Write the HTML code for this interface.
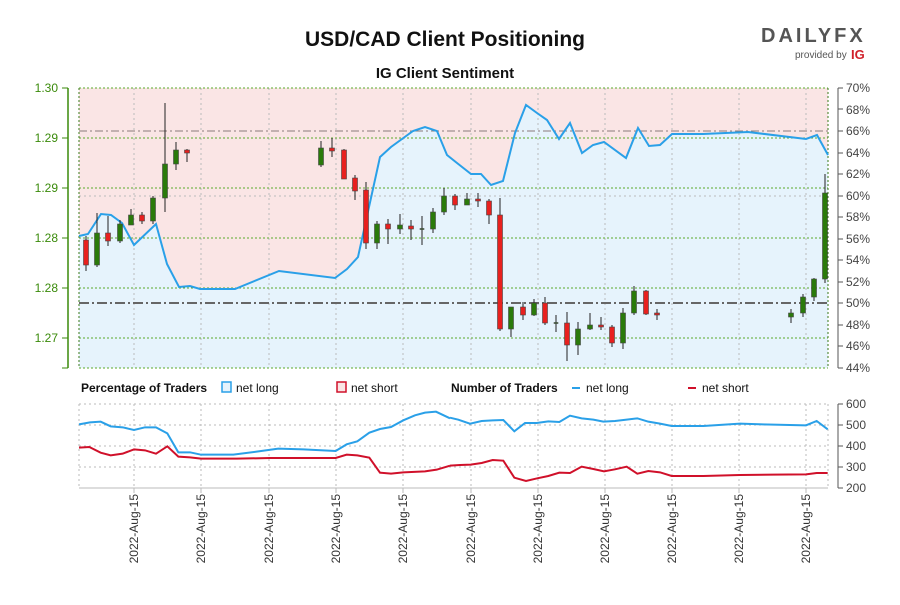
<!DOCTYPE html>
<html><head><meta charset="utf-8"><style>
body{margin:0;background:#fff;width:900px;height:600px;overflow:hidden;font-family:"Liberation Sans",sans-serif}
</style></head><body>
<svg width="900" height="600" xmlns="http://www.w3.org/2000/svg" font-family="Liberation Sans, sans-serif">
<text x="445" y="46" text-anchor="middle" font-size="21" font-weight="bold" fill="#111">USD/CAD Client Positioning</text>
<text x="445" y="78" text-anchor="middle" font-size="15" font-weight="bold" fill="#111">IG Client Sentiment</text>
<text x="761" y="42" font-size="20" font-weight="bold" fill="#555" letter-spacing="3">DAILYFX</text>
<text x="795" y="58" font-size="10" fill="#555">provided by</text>
<text x="851" y="59" font-size="13" font-weight="bold" fill="#d0202a">IG</text>
<!-- main plot bg -->
<rect x="79" y="88" width="749" height="280" fill="#fae5e5"/>
<polygon fill="#e6f3fc" points="79,236 88,234 101,214 111,215 122,223 134,245 156,224 167,264 179,287 190,286 200,289 235,289 279,271 335,278 347,269 358,257 380,157 391,147 413,131 425,127 437,131 447,155 457,163 471,174 481,174 491,185 503,181 515,133 526,105 537,113 547,120 559,139 570,123 582,153 593,145 604,142 626,158 638,128 649,146 660,145 672,134 703,134 748,132 806,139 817,135 828,155 828,368 79,368"/>
<g stroke="#bbb" stroke-dasharray="2,3" stroke-width="1">
<line x1="134" y1="88" x2="134" y2="368"/><line x1="201" y1="88" x2="201" y2="368"/><line x1="269" y1="88" x2="269" y2="368"/><line x1="336" y1="88" x2="336" y2="368"/><line x1="403" y1="88" x2="403" y2="368"/><line x1="471" y1="88" x2="471" y2="368"/><line x1="538" y1="88" x2="538" y2="368"/><line x1="605" y1="88" x2="605" y2="368"/><line x1="672" y1="88" x2="672" y2="368"/><line x1="739" y1="88" x2="739" y2="368"/><line x1="806" y1="88" x2="806" y2="368"/>
<line x1="79" y1="196" x2="828" y2="196"/>
</g>
<g stroke="#5aaa2a" stroke-dasharray="2,2" stroke-width="1">
<line x1="79" y1="88" x2="828" y2="88"/><line x1="79" y1="138" x2="828" y2="138"/><line x1="79" y1="188" x2="828" y2="188"/><line x1="79" y1="238" x2="828" y2="238"/><line x1="79" y1="288" x2="828" y2="288"/><line x1="79" y1="338" x2="828" y2="338"/><line x1="79" y1="368" x2="828" y2="368"/>
<line x1="79" y1="88" x2="79" y2="368" stroke="#3a7a1a"/><line x1="828" y1="88" x2="828" y2="368" stroke="#3a7a1a"/>
</g>
<line x1="79" y1="131" x2="828" y2="131" stroke="#8a7a7a" stroke-dasharray="8,3,2,3"/>
<line x1="79" y1="303" x2="828" y2="303" stroke="#666" stroke-width="2" stroke-dasharray="10,3,2,3"/>
<polyline fill="none" stroke="#2aa0e8" stroke-width="2" points="79,236 88,234 101,214 111,215 122,223 134,245 156,224 167,264 179,287 190,286 200,289 235,289 279,271 335,278 347,269 358,257 380,157 391,147 413,131 425,127 437,131 447,155 457,163 471,174 481,174 491,185 503,181 515,133 526,105 537,113 547,120 559,139 570,123 582,153 593,145 604,142 626,158 638,128 649,146 660,145 672,134 703,134 748,132 806,139 817,135 828,155"/>
<!-- candles -->
<g stroke="#222" stroke-width="1">
<line x1="86" y1="236" x2="86" y2="271"/><line x1="97" y1="213" x2="97" y2="267"/><line x1="108" y1="216" x2="108" y2="246"/><line x1="120" y1="220" x2="120" y2="243"/><line x1="131" y1="209" x2="131" y2="225"/><line x1="142" y1="212" x2="142" y2="224"/><line x1="153" y1="196" x2="153" y2="224"/><line x1="165" y1="103" x2="165" y2="212"/><line x1="176" y1="142" x2="176" y2="170"/><line x1="187" y1="149" x2="187" y2="162"/>
<line x1="321" y1="141" x2="321" y2="167"/><line x1="332" y1="138" x2="332" y2="157"/><line x1="344" y1="149" x2="344" y2="179"/><line x1="355" y1="175" x2="355" y2="200"/><line x1="366" y1="182" x2="366" y2="249"/><line x1="377" y1="221" x2="377" y2="249"/><line x1="388" y1="219" x2="388" y2="244"/><line x1="400" y1="214" x2="400" y2="234"/><line x1="411" y1="220" x2="411" y2="240"/><line x1="422" y1="216" x2="422" y2="245"/><line x1="433" y1="208" x2="433" y2="233"/><line x1="444" y1="188" x2="444" y2="215"/>
<line x1="455" y1="194" x2="455" y2="210"/><line x1="467" y1="193" x2="467" y2="205"/><line x1="478" y1="193" x2="478" y2="207"/><line x1="489" y1="199" x2="489" y2="224"/><line x1="500" y1="198" x2="500" y2="331"/><line x1="511" y1="307" x2="511" y2="337"/><line x1="523" y1="302" x2="523" y2="320"/><line x1="534" y1="299" x2="534" y2="316"/><line x1="545" y1="297" x2="545" y2="325"/><line x1="556" y1="315" x2="556" y2="332"/><line x1="567" y1="312" x2="567" y2="361"/><line x1="578" y1="322" x2="578" y2="355"/><line x1="590" y1="313" x2="590" y2="330"/><line x1="601" y1="317" x2="601" y2="330"/><line x1="612" y1="325" x2="612" y2="347"/><line x1="623" y1="308" x2="623" y2="349"/><line x1="634" y1="286" x2="634" y2="315"/><line x1="646" y1="290" x2="646" y2="315"/><line x1="657" y1="309" x2="657" y2="320"/>
<line x1="791" y1="309" x2="791" y2="323"/><line x1="803" y1="294" x2="803" y2="317"/><line x1="814" y1="278" x2="814" y2="301"/><line x1="825" y1="174" x2="825" y2="283"/>
</g>
<g stroke="#444" stroke-width="0.6">
<g fill="#e8201e">
<rect x="83.5" y="240" width="5" height="25"/><rect x="105.5" y="233" width="5" height="8"/><rect x="139.5" y="215" width="5" height="6"/><rect x="184.5" y="150" width="5" height="3"/>
<rect x="329.5" y="148" width="5" height="3"/><rect x="341.5" y="150" width="5" height="29"/><rect x="352.5" y="178" width="5" height="13"/><rect x="363.5" y="190" width="5" height="53"/><rect x="385.5" y="224" width="5" height="5"/><rect x="408.5" y="226" width="5" height="3"/>
<rect x="452.5" y="196" width="5" height="9"/><rect x="475.5" y="199" width="5" height="2"/><rect x="486.5" y="201" width="5" height="14"/><rect x="497.5" y="215" width="5" height="114"/><rect x="520.5" y="307" width="5" height="8"/><rect x="542.5" y="303" width="5" height="20"/><rect x="564.5" y="323" width="5" height="22"/><rect x="598.5" y="325" width="5" height="2"/><rect x="609.5" y="327" width="5" height="16"/><rect x="643.5" y="291" width="5" height="23"/><rect x="654.5" y="313" width="5" height="2"/>
</g>
<g fill="#2a7a0a">
<rect x="94.5" y="233" width="5" height="32"/><rect x="117.5" y="224" width="5" height="17"/><rect x="128.5" y="215" width="5" height="10"/><rect x="150.5" y="198" width="5" height="23"/><rect x="162.5" y="164" width="5" height="34"/><rect x="173.5" y="150" width="5" height="14"/>
<rect x="318.5" y="148" width="5" height="17"/><rect x="374.5" y="224" width="5" height="19"/><rect x="397.5" y="225" width="5" height="4"/><rect x="420" y="228.5" width="4" height="1"/><rect x="430.5" y="212" width="5" height="17"/><rect x="441.5" y="196" width="5" height="16"/>
<rect x="464.5" y="199" width="5" height="6"/><rect x="508.5" y="307" width="5" height="22"/><rect x="531.5" y="303" width="5" height="12"/><rect x="554" y="322.5" width="4" height="1"/><rect x="575.5" y="329" width="5" height="16"/><rect x="587.5" y="325" width="5" height="4"/><rect x="620.5" y="313" width="5" height="30"/><rect x="631.5" y="291" width="5" height="22"/>
<rect x="788.5" y="313" width="5" height="4"/><rect x="800.5" y="297" width="5" height="16"/><rect x="811.5" y="279" width="5" height="18"/><rect x="822.5" y="193" width="5" height="86"/>
</g></g>
<!-- left axis -->
<line x1="68" y1="88" x2="68" y2="368" stroke="#3a8a0a" stroke-width="1.5"/>
<g stroke="#3a8a0a"><line x1="62" y1="88" x2="68" y2="88"/><line x1="62" y1="138" x2="68" y2="138"/><line x1="62" y1="188" x2="68" y2="188"/><line x1="62" y1="238" x2="68" y2="238"/><line x1="62" y1="288" x2="68" y2="288"/><line x1="62" y1="338" x2="68" y2="338"/><line x1="62" y1="368" x2="68" y2="368"/></g>
<g font-size="12" fill="#3a8a0a" text-anchor="end"><text x="58" y="92">1.30</text><text x="58" y="142">1.29</text><text x="58" y="192">1.29</text><text x="58" y="242">1.28</text><text x="58" y="292">1.28</text><text x="58" y="342">1.27</text></g>
<!-- right axis -->
<line x1="838" y1="88" x2="838" y2="368" stroke="#555"/>
<g font-size="12" fill="#444" stroke="none">
<text x="846" y="92">70%</text><text x="846" y="114">68%</text><text x="846" y="135">66%</text><text x="846" y="157">64%</text><text x="846" y="178">62%</text><text x="846" y="200">60%</text><text x="846" y="221">58%</text><text x="846" y="243">56%</text><text x="846" y="264">54%</text><text x="846" y="286">52%</text><text x="846" y="307">50%</text><text x="846" y="329">48%</text><text x="846" y="350">46%</text><text x="846" y="372">44%</text></g>
<g stroke="#555"><line x1="838" y1="88" x2="843" y2="88"/><line x1="838" y1="109" x2="843" y2="109"/><line x1="838" y1="131" x2="843" y2="131"/><line x1="838" y1="153" x2="843" y2="153"/><line x1="838" y1="174" x2="843" y2="174"/><line x1="838" y1="196" x2="843" y2="196"/><line x1="838" y1="217" x2="843" y2="217"/><line x1="838" y1="239" x2="843" y2="239"/><line x1="838" y1="260" x2="843" y2="260"/><line x1="838" y1="282" x2="843" y2="282"/><line x1="838" y1="303" x2="843" y2="303"/><line x1="838" y1="325" x2="843" y2="325"/><line x1="838" y1="346" x2="843" y2="346"/><line x1="838" y1="368" x2="843" y2="368"/></g>
<!-- legend -->
<g font-size="12" fill="#111">
<text x="81" y="392" font-weight="bold">Percentage of Traders</text>
<rect x="222" y="382" width="9" height="10" fill="#e6f3fc" stroke="#2aa0e8" stroke-width="1.5"/><text x="236" y="392">net long</text>
<rect x="337" y="382" width="9" height="10" fill="#fae5e5" stroke="#d0102a" stroke-width="1.5"/><text x="351" y="392">net short</text>
<text x="451" y="392" font-weight="bold">Number of Traders</text>
<line x1="572" y1="388" x2="580" y2="388" stroke="#2aa0e8" stroke-width="2"/><text x="586" y="392">net long</text>
<line x1="688" y1="388" x2="696" y2="388" stroke="#d0102a" stroke-width="2"/><text x="702" y="392">net short</text>
</g>
<!-- bottom chart -->
<g stroke="#bbb" stroke-dasharray="2,3">
<line x1="79" y1="404" x2="828" y2="404"/><line x1="79" y1="425" x2="828" y2="425"/><line x1="79" y1="446" x2="828" y2="446"/><line x1="79" y1="467" x2="828" y2="467"/>
<line x1="79" y1="404" x2="79" y2="488"/><line x1="828" y1="404" x2="828" y2="488"/>
<line x1="134" y1="404" x2="134" y2="488"/><line x1="201" y1="404" x2="201" y2="488"/><line x1="269" y1="404" x2="269" y2="488"/><line x1="336" y1="404" x2="336" y2="488"/><line x1="403" y1="404" x2="403" y2="488"/><line x1="471" y1="404" x2="471" y2="488"/><line x1="538" y1="404" x2="538" y2="488"/><line x1="605" y1="404" x2="605" y2="488"/><line x1="672" y1="404" x2="672" y2="488"/><line x1="739" y1="404" x2="739" y2="488"/><line x1="806" y1="404" x2="806" y2="488"/>
</g>
<line x1="79" y1="488" x2="828" y2="488" stroke="#bbb"/>
<g stroke="#bbb"><line x1="134" y1="488" x2="134" y2="493"/><line x1="201" y1="488" x2="201" y2="493"/><line x1="269" y1="488" x2="269" y2="493"/><line x1="336" y1="488" x2="336" y2="493"/><line x1="403" y1="488" x2="403" y2="493"/><line x1="471" y1="488" x2="471" y2="493"/><line x1="538" y1="488" x2="538" y2="493"/><line x1="605" y1="488" x2="605" y2="493"/><line x1="672" y1="488" x2="672" y2="493"/><line x1="739" y1="488" x2="739" y2="493"/><line x1="806" y1="488" x2="806" y2="493"/></g>
<g transform="translate(70,395) scale(0.33333)" fill="none" stroke-width="2">
<polyline vector-effect="non-scaling-stroke" stroke="#2aa0e8" points="27,88 60,82 92,80 122,94 158,97 192,105 225,97 258,97 292,115 325,172 360,172 393,179 490,179 560,170 625,161 700,163 797,168 830,148 862,139 898,113 930,102 963,96 1000,76 1035,61 1065,53 1098,50 1140,70"/>
<polyline vector-effect="non-scaling-stroke" stroke="#d0102a" points="27,158 58,156 92,173 122,181 158,176 192,163 225,166 258,176 292,154 325,185 360,187 393,191 500,191 600,189 797,189 830,179 862,181 898,188 930,233 963,236 1000,232 1065,229 1100,224 1140,212"/>
</g>
<g transform="translate(450,395) scale(0.33333)" fill="none" stroke-width="2">
<polyline vector-effect="non-scaling-stroke" stroke="#2aa0e8" points="0,68 25,74 60,86 95,78 128,76 160,75 193,109 225,84 260,84 295,79 328,81 360,62 395,70 430,74 460,80 495,78 530,74 562,70 595,80 630,86 665,93 760,93 870,86 970,89 1068,91 1100,78 1133,103"/>
<polyline vector-effect="non-scaling-stroke" stroke="#d0102a" points="0,212 30,210 62,209 95,204 128,195 160,197 193,248 228,258 262,250 295,243 328,233 360,234 395,215 430,222 462,229 495,223 530,215 562,236 595,228 630,232 665,243 760,243 870,240 970,239 1068,238 1100,234 1133,234"/>
</g>
<line x1="838" y1="404" x2="838" y2="488" stroke="#555"/>
<g stroke="#555"><line x1="838" y1="404" x2="843" y2="404"/><line x1="838" y1="425" x2="843" y2="425"/><line x1="838" y1="446" x2="843" y2="446"/><line x1="838" y1="467" x2="843" y2="467"/><line x1="838" y1="488" x2="843" y2="488"/></g>
<g font-size="12" fill="#444"><text x="846" y="408">600</text><text x="846" y="429">500</text><text x="846" y="450">400</text><text x="846" y="471">300</text><text x="846" y="492">200</text></g>
<g font-size="12" fill="#333" text-anchor="end">
<text transform="translate(138,494) rotate(-90)">2022-Aug-15</text><text transform="translate(205,494) rotate(-90)">2022-Aug-15</text><text transform="translate(273,494) rotate(-90)">2022-Aug-15</text><text transform="translate(340,494) rotate(-90)">2022-Aug-15</text><text transform="translate(407,494) rotate(-90)">2022-Aug-15</text><text transform="translate(475,494) rotate(-90)">2022-Aug-15</text><text transform="translate(542,494) rotate(-90)">2022-Aug-15</text><text transform="translate(609,494) rotate(-90)">2022-Aug-15</text><text transform="translate(676,494) rotate(-90)">2022-Aug-15</text><text transform="translate(743,494) rotate(-90)">2022-Aug-15</text><text transform="translate(810,494) rotate(-90)">2022-Aug-15</text>
</g>
</svg>
</body></html>
